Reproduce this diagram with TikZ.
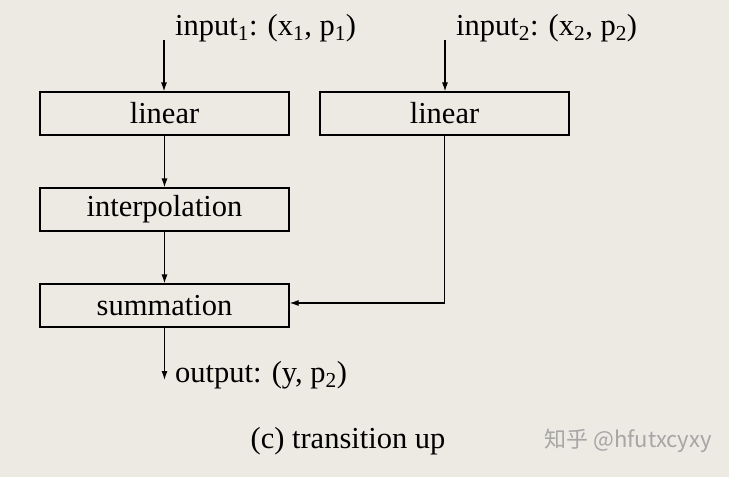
\documentclass[tikz,border=0pt]{standalone}
\usepackage{fontspec}
\usetikzlibrary{arrows.meta}
\setmainfont{Liberation Serif}
\newfontfamily\cjk{Noto Sans CJK SC}
\definecolor{bg}{HTML}{EDE9E3}
\begin{document}
\begin{tikzpicture}[x=1pt,y=-1pt,
  box/.style={draw,line width=1.2pt,minimum width=249pt,minimum height=43pt,inner sep=0pt,font=\fontsize{30.5}{34}\selectfont},
  lbl/.style={anchor=west,inner sep=0pt,font=\fontsize{30.5}{34}\selectfont},
  arr/.style={-{Latex[length=9pt,width=6pt]},line width=1.2pt}]
\fill[bg] (0,0) rectangle (729,477);
\useasboundingbox (0,0) rectangle (729,477);
\node[box] (l1) at (164.5,113.5) {linear};
\node[box] (l2) at (444.5,113.5) {linear};
\node[box] (ip) at (164.5,209.5) {interpolation};
\node[box] (sm) at (164.5,305.5) {summation};
\coordinate (i1) at (164,40);
\coordinate (i2) at (445,40);
\coordinate (o) at (164.5,380);
\node[lbl] (t1) at (175,28) {input\textsubscript{1}: (x\textsubscript{1}, p\textsubscript{1})};
\node[lbl] (t2) at (456,28) {input\textsubscript{2}: (x\textsubscript{2}, p\textsubscript{2})};
\node[lbl] (to) at (175,375) {output: (y, p\textsubscript{2})};
\draw[arr] (i1) -- (l1.north -| i1);
\draw[arr] (i2) -- (l2.north -| i2);
\draw[arr] (l1) -- (ip);
\draw[arr] (ip) -- (sm);
\draw[arr] (l2.south) |- (sm.east |- 0,303);
\draw[arr] (sm.south) -- (o);
\node[font=\fontsize{30.5}{34}\selectfont] (cap) at (348,441) {(c) transition up};
\node[font=\cjk\fontsize{22}{26}\selectfont,text=gray!70,anchor=west] (wm) at (541,441) {知乎 @hfutxcyxy};
\end{tikzpicture}
\end{document}
